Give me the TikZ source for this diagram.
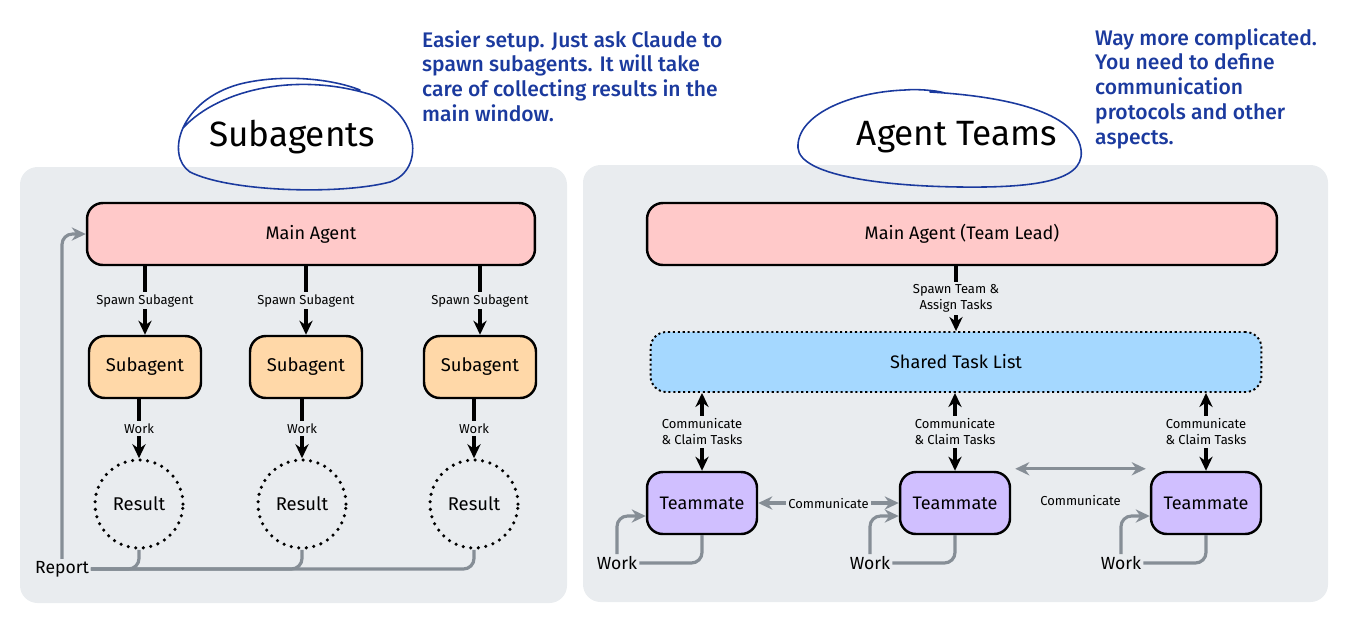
\documentclass[tikz,border=0pt]{standalone}
\usepackage{fontspec}
\setmainfont{Fira Sans}
\newfontfamily\notefont{Fira Sans}[UprightFont={* Medium}]
\usepackage{xcolor}
\usepackage{tikz}
\usetikzlibrary{
    positioning,
    arrows.meta,
    calc
}

\definecolor{panelbg}{HTML}{E9ECEF}
\definecolor{agentpink}{HTML}{FFC9C9}
\definecolor{suborange}{HTML}{FFD8A8}
\definecolor{taskblue}{HTML}{A5D8FF}
\definecolor{matepurple}{HTML}{D0BFFF}
\definecolor{notenavy}{HTML}{1B3A9E}
\definecolor{linegray}{HTML}{868E96}

\begin{document}
\begin{tikzpicture}[x=0.02cm, y=-0.02cm,
  box/.style={draw=black, line width=1.4pt, rounded corners=9pt, minimum height=1.24cm,
              text centered, inner sep=3pt, font=\fontsize{10.3}{12}\selectfont},
  res/.style={circle, draw=black, line width=2pt, dash pattern=on 0pt off 4.3pt,
              line cap=round, minimum size=1.76cm, font=\fontsize{10.5}{12}\selectfont},
  plain/.style={inner sep=1pt, font=\fontsize{10}{12}\selectfont},
  title/.style={font=\fontsize{20}{24}\selectfont},
  barr/.style={-{Stealth[length=8pt,width=7.5pt]}, line width=1.8pt},
  bdarr/.style={{Stealth[length=8pt,width=7.5pt]}-{Stealth[length=8pt,width=7.5pt]}, line width=1.8pt},
  garr/.style={-{Stealth[length=8pt,width=7.5pt]}, line width=1.8pt, draw=linegray,
               color=linegray, rounded corners=6pt},
  gdarr/.style={{Stealth[length=8pt,width=7.5pt]}-{Stealth[length=8pt,width=7.5pt]},
                line width=1.8pt, draw=linegray, color=linegray},
  gline/.style={line width=1.8pt, draw=linegray, rounded corners=6pt},
  lbl/.style={fill=panelbg, text=black, inner sep=1.5pt, align=center, font=\fontsize{7.4}{9}\selectfont},
  note/.style={anchor=north west, align=left, text=notenavy, font=\notefont\fontsize{12}{14.2}\selectfont},
  sketch/.style={draw=notenavy, line width=0.9pt, line cap=round}]

  \useasboundingbox (0,0) rectangle (1358,640);

  % Grey panels
  \fill[panelbg, rounded corners=10pt] (20,167) rectangle (567,603);
  \fill[panelbg, rounded corners=10pt] (583,165) rectangle (1328,602);

  % Titles with hand-drawn rings
  \node[title] (ttlS) at (292,137) {Subagents};
  \node[title] (ttlT) at (957,137) {Agent Teams};
  \draw[sketch] (183,128) .. controls (220,88) and (300,72) .. (372,95)
    .. controls (420,115) and (425,170) .. (390,182)
    .. controls (340,195) and (230,192) .. (190,172)
    .. controls (165,155) and (180,100) .. (240,84)
    .. controls (280,74) and (330,78) .. (360,90);
  \draw[sketch] (930,92) .. controls (1000,96) and (1070,110) .. (1080,145)
    .. controls (1090,180) and (1040,188) .. (960,187)
    .. controls (880,186) and (800,175) .. (798,148)
    .. controls (796,115) and (850,92) .. (905,90)
    .. controls (915,89) and (935,90) .. (945,93);

  % Notes
  \node[note] (noteS) at (416,24)
    {Easier setup. Just ask Claude to\\spawn subagents. It will take\\care of collecting results in the\\main window.};
  \node[note] (noteT) at (1089,22)
    {Way more complicated.\\You need to define\\communication\\protocols and other\\aspects.};

  % Subagents side
  \node[box, fill=agentpink, minimum width=8.96cm] (main) at (311,234) {Main Agent};
  \foreach \i/\x/\rx in {1/145/139, 2/306/302, 3/480/474} {
    \node[box, fill=suborange, minimum width=2.24cm, font=\fontsize{10.5}{12}\selectfont]
      (sub\i) at (\x,367) {Subagent};
    \node[res] (res\i) at (\rx,504) {Result};
    \draw[barr] (sub\i.north |- main.south) -- node[lbl]{Spawn Subagent} (sub\i.north);
    \draw[barr] (res\i.north |- sub\i.south) -- node[lbl]{Work} (res\i.north);
  }
  \node[plain] (rep) at (62,569) {Report};
  \foreach \i in {1,2,3}
    \draw[gline] (res\i.south) |- (rep.east);
  \draw[garr] (rep.north) |- (main.west);

  % Agent teams side
  \node[box, fill=agentpink, minimum width=12.6cm] (lead) at (962,234) {Main Agent (Team Lead)};
  \node[box, fill=taskblue, dash pattern=on 1.2pt off 1.6pt, line width=1.1pt,
        minimum width=12.22cm, minimum height=1.2cm] (tasks) at (956,362) {Shared Task List};
  \draw[barr] (tasks.north |- lead.south) -- node[lbl]{Spawn Team \&\\Assign Tasks} (tasks.north);

  \foreach \i/\x/\wx in {1/702/617, 2/955/870, 3/1206/1121} {
    \node[box, fill=matepurple, minimum width=2.2cm] (tm\i) at (\x,503) {Teammate};
    \draw[bdarr] (tm\i.north) -- node[lbl]{Communicate\\\& Claim Tasks} (tm\i.north |- tasks.south);
    \node[plain] (work\i) at (\wx,563) {Work};
    \draw[gline] (tm\i.south) |- (work\i.east);
    \draw[garr] (work\i.north) |- ($(tm\i.west)+(0,13)$);
  }
  \draw[gdarr] (tm1.east) -- node[lbl]{Communicate} (tm2.west);
  \draw[gdarr] ($(tm2.north east)+(4,-2)$) -- node[lbl, below=13pt]{Communicate} ($(tm3.north west)+(-4,-2)$);
\end{tikzpicture}
\end{document}
